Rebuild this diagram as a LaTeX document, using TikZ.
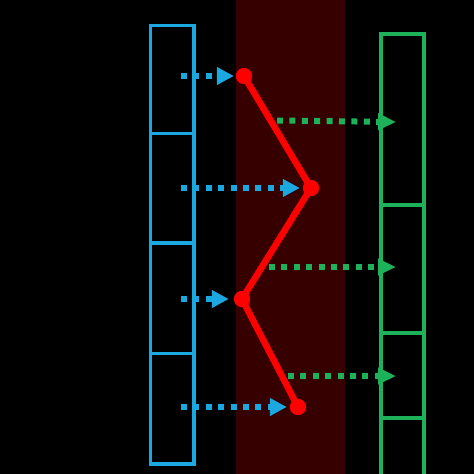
\documentclass[tikz,border=0pt]{standalone}
\usetikzlibrary{arrows.meta}
\definecolor{bandred}{RGB}{54,0,0}
\definecolor{cblue}{RGB}{27,168,224}
\definecolor{cgreen}{RGB}{29,177,90}
\definecolor{cred}{RGB}{255,0,0}
\tikzset{
  bluebox/.style={draw=cblue, line width=3.3pt, minimum width=43.5pt, inner sep=0pt, outer sep=0pt, rectangle},
  greenbox/.style={draw=cgreen, line width=3.3pt, minimum width=43pt, inner sep=0pt, outer sep=0pt, rectangle},
  rdot/.style={circle, fill=cred, minimum size=16pt, inner sep=0pt},
  redline/.style={draw=cred, line width=6.5pt},
  bluearrow/.style={draw=cblue, line width=6pt, dash pattern=on 6pt off 6.4pt,
     -{Triangle[length=17pt,width=17pt,fill=cblue]}},
  greenarrow/.style={draw=cgreen, line width=6pt, dash pattern=on 6pt off 6.4pt,
     -{Triangle[length=18pt,width=16pt,fill=cgreen]}},
}
\begin{document}
\begin{tikzpicture}[x=1pt,y=-1pt]
\clip (0,0) rectangle (474,474);
\fill[black] (0,0) rectangle (474,474);
\fill[bandred] (236,0) rectangle (345,474);
% blue column
\node[bluebox, minimum height=107.6pt] (b1) at (172.25,79.5) {};
\node[bluebox, minimum height=109.7pt] (b2) at (172.25,188.15) {};
\node[bluebox, minimum height=110.5pt] (b3) at (172.25,298.25) {};
\node[bluebox, minimum height=110.5pt] (b4) at (172.25,408.75) {};
% green column
\node[greenbox, minimum height=171pt] (g1) at (402.5,119.5) {};
\node[greenbox, minimum height=128pt] (g2) at (402.5,269) {};
\node[greenbox, minimum height=85pt] (g3) at (402.5,375.5) {};
\node[greenbox, minimum height=82pt] (g4) at (402.5,459) {};
% red points
\node[rdot] (p1) at (244,76) {};
\node[rdot] (p2) at (311,188) {};
\node[rdot] (p3) at (242,299) {};
\node[rdot] (p4) at (298,407) {};
\draw[redline] (p1.center) -- (p2.center) -- (p3.center) -- (p4.center);
\node[rdot] at (p1) {};
\node[rdot] at (p2) {};
\node[rdot] at (p3) {};
\node[rdot] at (p4) {};
% blue arrows
\coordinate (s1) at (181,76);
\coordinate (s2) at (181,188);
\coordinate (s3) at (181,299);
\coordinate (s4) at (181,407);
\draw[bluearrow, shorten >=2pt] (s1) -- (p1.west);
\draw[bluearrow, shorten >=3pt] (s2) -- (p2.west);
\draw[bluearrow, shorten >=5pt] (s3) -- (p3.west);
\draw[bluearrow, shorten >=3pt] (s4) -- (p4.west);
% green arrows
\coordinate (h1) at (277,120.5);
\coordinate (h2) at (269,267);
\coordinate (h3) at (288,376);
\coordinate (t1) at (396,122);
\coordinate (t2) at (396,267);
\coordinate (t3) at (396,376);
\draw[greenarrow] (h1) -- (t1);
\draw[greenarrow] (h2) -- (t2);
\draw[greenarrow] (h3) -- (t3);
\end{tikzpicture}
\end{document}
